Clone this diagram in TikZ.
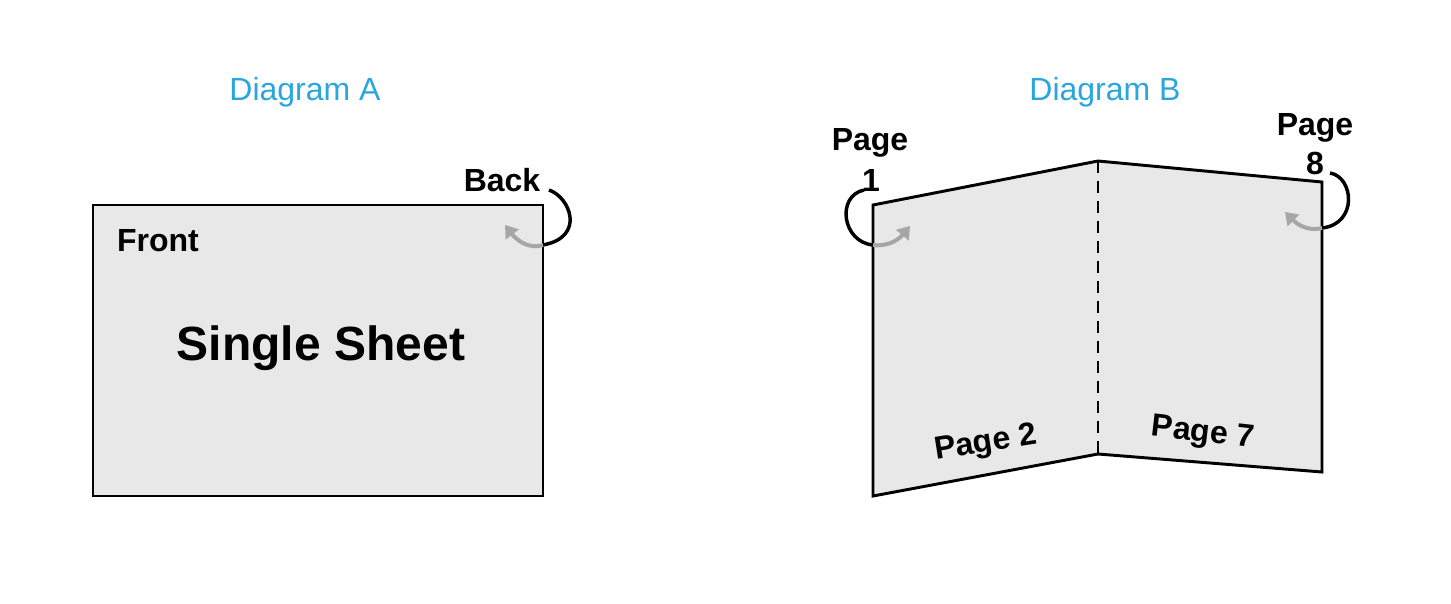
\documentclass[tikz,border=0pt]{standalone}
\usepackage{fontspec}
\setmainfont{Liberation Sans}
\usetikzlibrary{arrows.meta}
\definecolor{titleblue}{HTML}{2BA6DC}
\definecolor{sheetgray}{HTML}{E8E8E8}
\definecolor{arrowgray}{HTML}{A6A6A6}
\tikzset{
  sheet/.style={draw=black, fill=sheetgray, line width=2.2pt, line join=miter},
  outline/.style={draw=black, line width=2.2pt, line join=miter},
  title/.style={text=titleblue, font=\fontsize{24}{28}\selectfont},
  lbl/.style={font=\bfseries\fontsize{24}{26}\selectfont, inner sep=0pt, align=center},
  big/.style={font=\bfseries\fontsize{36}{40}\selectfont, inner sep=0pt},
  turn/.style={draw=black, line width=2.6pt},
  flip/.style={draw=arrowgray, line width=3pt, -{Triangle[length=9pt,width=12pt]}}
}
\begin{document}
\begin{tikzpicture}[x=0.75pt,y=-0.75pt]
\useasboundingbox (0,0) rectangle (1451,603);
% Diagram A
\node[title] (ta) at (305,92) {Diagram A};
\draw[sheet] (93,205) rectangle (543,496);
\node[lbl] (front) at (158,241) {Front};
\node[big] (single) at (321,348) {Single Sheet};
\node[lbl] (back) at (502,180) {Back};
\coordinate (a1) at (549,190);
\coordinate (a2) at (543,245);
\coordinate (a3) at (505,225);
\draw[turn] (a1) .. controls (570,197) and (586,237) .. (a2);
\draw[flip] (a2) .. controls (527,250) and (515,238) .. (a3);
% Diagram B
\node[title] (tb) at (1105,92) {Diagram B};
\coordinate (lt) at (873,205);
\coordinate (mt) at (1098,161);
\coordinate (rt) at (1322,182);
\coordinate (rb) at (1322,472);
\coordinate (mb) at (1098,454);
\coordinate (lb) at (873,496);
\fill[sheetgray] (lt) -- (mt) -- (rt) -- (rb) -- (mb) -- (lb) -- cycle;
\draw[outline] (lt) -- (mt) -- (rt) -- (rb) -- (mb) -- (lb) -- cycle;
\draw[line width=2pt, dash pattern=on 9pt off 6pt, black] (mt) -- (mb);
\node[lbl] (p1) at (870,143) {Page};
\node[lbl] (n1) at (871,180) {1};
\node[lbl] (p8) at (1315,128) {Page};
\node[lbl] (n8) at (1315,163) {8};
\node[lbl, rotate=9] (p2) at (986,444) {Page 2};
\node[lbl, rotate=-6.5] (p7) at (1203,434) {Page 7};
\coordinate (b1) at (864,190);
\coordinate (b2) at (873,245);
\coordinate (b3) at (910,226);
\draw[turn] (b1) .. controls (836,196) and (842,242) .. (b2);
\draw[flip] (b2) .. controls (890,247) and (900,238) .. (b3);
\coordinate (c1) at (1330,173);
\coordinate (c2) at (1322,228);
\coordinate (c3) at (1285,212);
\draw[turn] (c1) .. controls (1354,177) and (1358,224) .. (c2);
\draw[flip] (c2) .. controls (1305,232) and (1295,222) .. (c3);
\end{tikzpicture}
\end{document}
